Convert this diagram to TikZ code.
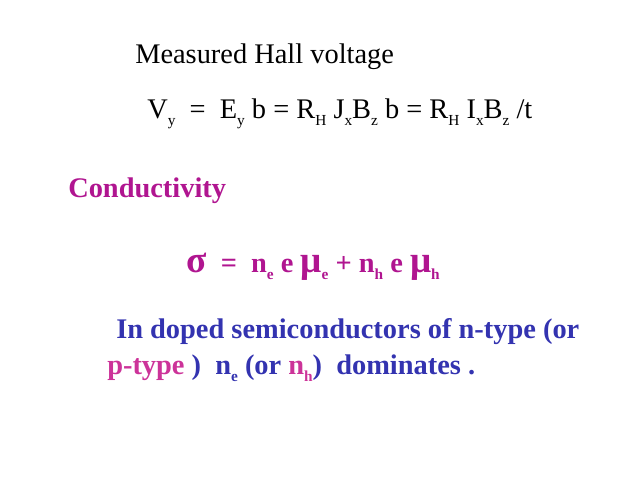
\documentclass[tikz,border=0pt]{standalone}
\usepackage{fontspec}
\setmainfont{Liberation Serif}
\definecolor{mag}{HTML}{B01590}
\definecolor{blu}{HTML}{3333B0}
\definecolor{pnk}{HTML}{CC3399}
\newcommand{\sbx}[1]{\raisebox{-0.25em}{\fontsize{11.5}{12}\selectfont #1}}
\newcommand{\grk}[1]{{\fontsize{28}{28}\selectfont #1}}
\begin{document}
\begin{tikzpicture}[x=0.75pt,y=-0.75pt,
  txt/.style={anchor=base west,inner sep=0pt,font=\fontsize{21.3}{25}\selectfont},
  btxt/.style={txt,font=\fontsize{21.3}{25}\selectfont\bfseries}]
\useasboundingbox (0,0) rectangle (638,478);
\node[txt] (m) at (135,64) {Measured Hall voltage};
\node[txt] (v) at (147,118) {V\sbx{y}\ \ =\ \ E\sbx{y} b = R\sbx{H} J\sbx{x}B\sbx{z} b = R\sbx{H} I\sbx{x}B\sbx{z} /t};
\node[btxt,text=mag] (c) at (68,197) {Conductivity};
\node[btxt,text=mag] (s) at (186,272) {\grk{σ}\ \ =\ \ n\sbx{e} e \grk{μ}\sbx{e} + n\sbx{h} e \grk{μ}\sbx{h}};
\node[btxt,text=blu] (d1) at (116,338) {In doped semiconductors of n-type (or};
\node[btxt,text=blu] (d2) at (107,374) {\textcolor{pnk}{p-type} )\ \ n\sbx{e} (or \textcolor{pnk}{n\sbx{h}})\ \ dominates .};
\end{tikzpicture}
\end{document}
